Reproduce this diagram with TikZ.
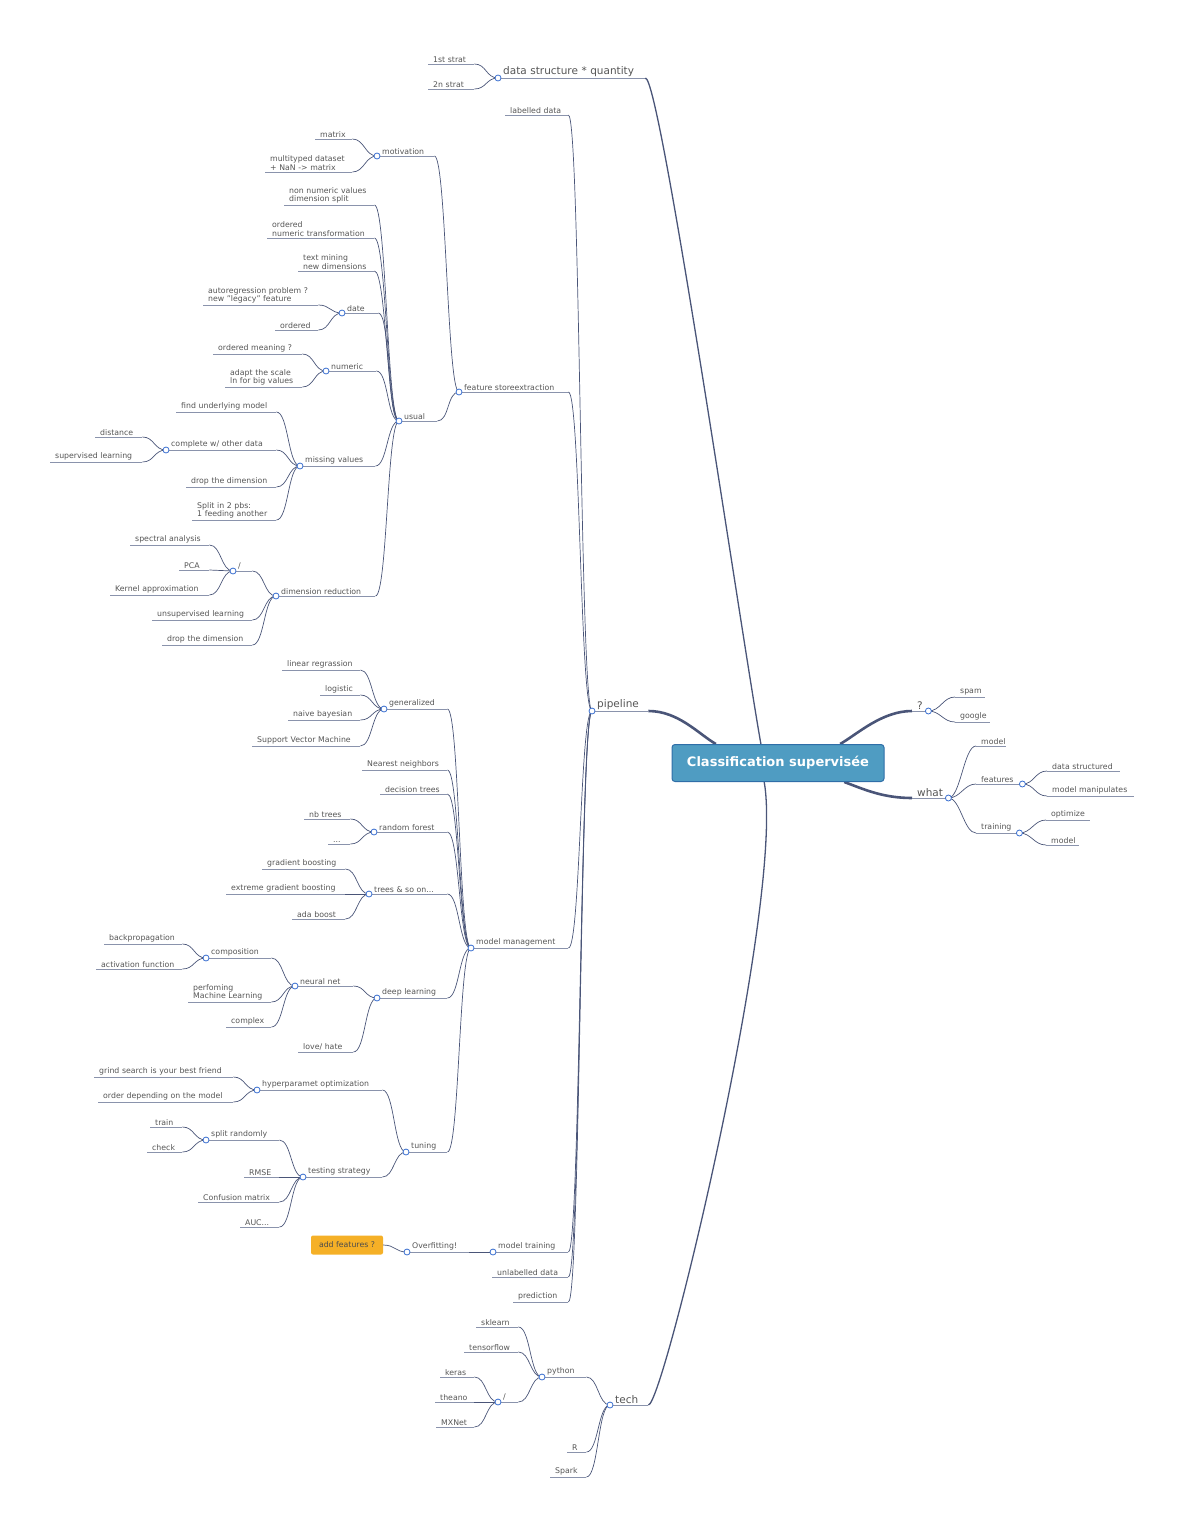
\documentclass[tikz,border=0pt]{standalone}
\usepackage{fontspec}
\setmainfont{DejaVu Sans}
\usetikzlibrary{backgrounds}
\definecolor{lc}{HTML}{4A5578}
\definecolor{ul}{HTML}{8A93AC}
\definecolor{tc}{HTML}{555555}
\definecolor{dc}{HTML}{3A6FD0}
\definecolor{cf}{HTML}{4F9CC2}
\definecolor{cb}{HTML}{2F6EA8}
\definecolor{of}{HTML}{F5B027}
\tikzset{
  lab/.style={font=\fontsize{7.8}{8.2}\selectfont, text=tc, inner xsep=5pt, inner ysep=1.5pt,
    align=left, append after command={(\tikzlastnode.south west) edge[draw=ul, line width=0.8pt] (\tikzlastnode.south east)}},
  big/.style={font=\fontsize{10.5}{12}\selectfont},
  ln/.style={draw=lc, line width=0.7pt},
  br/.style={out=0, in=180, out distance=12pt, in distance=12pt},
  main/.style={draw=lc, line width=2.6pt},
  thin main/.style={draw=lc, line width=1.3pt},
  dot/.style={draw=dc, fill=white, line width=0.8pt}
}
% topic: [options]{name}{x left}{x right}{y of line}{text}
\newcommand\topic[6][]{%
  \pgfmathsetmacro\tw{#4-#3-10}%
  \node[lab, #1, text width=\tw pt, anchor=south west] (#2) at (#3,#5) {#6};}
\begin{document}
\begin{tikzpicture}[x=1pt, y=-1pt]
\useasboundingbox (0,0) rectangle (1189,1534);
% main topics
\topic[big]{dsq}{498}{645}{78}{data structure * quantity}
\topic[big]{pip}{592}{648}{711}{pipeline}
\topic[big]{tech}{610}{648}{1405}{tech}
\topic[big]{q}{912}{928}{711}{?}
\topic[big]{what}{912}{948}{798}{what}
% data structure
\topic{s1}{428}{474}{64}{1st strat}
\topic{s2}{428}{474}{89}{2n strat}
% pipeline
\topic{lab}{505}{568}{115}{labelled data}
\topic{fse}{459}{568}{392}{feature storeextraction}
\topic{mm}{471}{568}{948}{model management}
\topic{mtr}{493}{568}{1252}{model training}
\topic{unl2}{492}{568}{1277}{unlabelled data}
\topic{pred}{513}{568}{1302}{prediction}
% feature store / extraction
\topic{mot}{377}{434}{156}{motivation}
\topic{usu}{399}{437}{421}{usual}
\topic{mat}{315}{352}{139}{matrix}
\topic{mtd}{265}{352}{172}{multityped dataset\\+ NaN -> matrix}
\topic{nnv}{284}{374}{205}{non numeric values\\dimension split}
\topic{ont}{267}{374}{238}{ordered\\numeric transformation}
\topic{txm}{298}{374}{271}{text mining\\new dimensions}
\topic{date}{342}{378}{313}{date}
\topic{num}{326}{376}{371}{numeric}
\topic{mis}{300}{375}{466}{missing values}
\topic{dr}{276}{375}{596}{dimension reduction}
\topic{aut}{203}{318}{305}{autoregression problem ?\\new "legacy" feature}
\topic{ord}{275}{318}{330}{ordered}
\topic{omn}{213}{302}{354}{ordered meaning ?}
\topic{ads}{225}{302}{387}{adapt the scale\\ln for big values}
\topic{fum}{176}{276}{412}{find underlying model}
\topic{cwo}{166}{276}{450}{complete w/ other data}
\topic{drp}{186}{276}{487}{drop the dimension}
\topic{spl}{192}{276}{520}{Split in 2 pbs:\\1 feeding another}
\topic{dis}{95}{142}{437}{distance}
\topic{sup}{50}{142}{462}{supervised learning}
\topic{sl}{233}{252}{571}{/}
\topic{unl}{152}{252}{620}{unsupervised learning}
\topic{drp2}{162}{252}{645}{drop the dimension}
\topic{spa}{130}{209}{545}{spectral analysis}
\topic{pca}{179}{209}{570}{PCA}
\topic{ker}{110}{209}{595}{Kernel approximation}
% model management
\topic{gen}{384}{447}{709}{generalized}
\topic{nn}{362}{447}{770}{Nearest neighbors}
\topic{dt}{380}{447}{794}{decision trees}
\topic{rf}{374}{447}{832}{random forest}
\topic{tso}{369}{447}{894}{trees \& so on...}
\topic{dl}{377}{447}{998}{deep learning}
\topic{tun}{406}{447}{1152}{tuning}
\topic{lin}{282}{360}{670}{linear regrassion}
\topic{log}{320}{360}{695}{logistic}
\topic{nai}{288}{360}{720}{naive bayesian}
\topic{svm}{252}{360}{746}{Support Vector Machine}
\topic{nbt}{304}{350}{819}{nb trees}
\topic{dots}{328}{350}{844}{...}
\topic{gb}{262}{345}{869}{gradient boosting}
\topic{xgb}{226}{345}{894}{extreme gradient boosting}
\topic{ada}{292}{345}{919}{ada boost}
\topic{nnet}{295}{353}{986}{neural net}
\topic{lh}{298}{353}{1052}{love/ hate}
\topic{cmp}{206}{271}{958}{composition}
\topic{pml}{188}{271}{1002}{perfoming\\Machine Learning}
\topic{cpx}{226}{271}{1027}{complex}
\topic{bp}{104}{182}{944}{backpropagation}
\topic{af}{96}{182}{969}{activation function}
\topic{hyp}{257}{382}{1090}{hyperparamet optimization}
\topic{tst}{303}{382}{1177}{testing strategy}
\topic{grd}{94}{233}{1077}{grind search is your best friend}
\topic{odm}{98}{233}{1102}{order depending on the model}
\topic{spr}{206}{279}{1140}{split randomly}
\topic{rmse}{244}{279}{1177}{RMSE}
\topic{cfm}{198}{279}{1202}{Confusion matrix}
\topic{auc}{240}{279}{1227}{AUC...}
\topic{trn}{150}{182}{1127}{train}
\topic{chk}{147}{182}{1152}{check}
% model training
\topic{ovf}{407}{469}{1252}{Overfitting!}
\node[fill=of, rounded corners=2pt, text=black!70, font=\fontsize{7.8}{8.2}\selectfont,
  minimum width=72pt, minimum height=19pt] (add) at (347,1245) {add features ?};
% tech
\topic{py}{542}{586}{1377}{python}
\topic{R}{567}{586}{1452}{R}
\topic{spk}{550}{586}{1477}{Spark}
\topic{skl}{476}{518}{1327}{sklearn}
\topic{tf}{464}{518}{1352}{tensorflow}
\topic{sl2}{498}{518}{1402}{/}
\topic{ker2}{440}{474}{1377}{keras}
\topic{the}{435}{474}{1402}{theano}
\topic{mx}{436}{474}{1427}{MXNet}
% right side
\topic{spam}{955}{985}{697}{spam}
\topic{goo}{955}{990}{722}{google}
\topic{mdl}{976}{1006}{746}{model}
\topic{feat}{976}{1022}{784}{features}
\topic{trg}{976}{1019}{833}{training}
\topic{dstr}{1047}{1120}{771}{data structured}
\topic{mman}{1047}{1134}{796}{model manipulates}
\topic{opt}{1046}{1090}{820}{optimize}
\topic{mdl2}{1046}{1079}{845}{model}
% centre
\node[fill=cf, draw=cb, line width=1pt, rounded corners=3pt, text=white,
  font=\fontsize{13}{15}\bfseries\selectfont, minimum width=212pt, minimum height=37pt] (C) at (778,763) {Classification supervisée};
% main branches
\begin{scope}[on background layer]
\draw[thin main] (dsq.south east) to[out=0,in=100,out distance=15pt,in distance=120pt] (C.132);
\draw[main] (pip.south east) to[out=0,in=150,out distance=30pt,in distance=20pt] (C.163);
\draw[thin main] (tech.south east) to[out=0,in=-80,out distance=15pt,in distance=120pt] (C.234);
\draw[main] (C.17) to[out=30,in=180,out distance=20pt,in distance=30pt] (q.south west);
\draw[main] (C.-16) to[out=-20,in=180,out distance=20pt,in distance=30pt] (what.south west);
\end{scope}
% connectors, left side
\foreach \c/\p in {s1/dsq, s2/dsq, lab/pip, fse/pip, mm/pip, mtr/pip, unl2/pip, pred/pip,
  mot/fse, usu/fse, mat/mot, mtd/mot, nnv/usu, ont/usu, txm/usu, date/usu, num/usu, mis/usu, dr/usu,
  aut/date, ord/date, omn/num, ads/num, fum/mis, cwo/mis, drp/mis, spl/mis, dis/cwo, sup/cwo,
  sl/dr, unl/dr, drp2/dr, spa/sl, pca/sl, ker/sl,
  gen/mm, nn/mm, dt/mm, rf/mm, tso/mm, dl/mm, tun/mm, lin/gen, log/gen, nai/gen, svm/gen,
  nbt/rf, dots/rf, gb/tso, xgb/tso, ada/tso, nnet/dl, lh/dl, cmp/nnet, pml/nnet, cpx/nnet,
  bp/cmp, af/cmp, hyp/tun, tst/tun, grd/hyp, odm/hyp, spr/tst, rmse/tst, cfm/tst, auc/tst,
  trn/spr, chk/spr, ovf/mtr, py/tech, R/tech, spk/tech, skl/py, tf/py, sl2/py,
  ker2/sl2, the/sl2, mx/sl2}
  \draw[ln] (\c.south east) to[br] (\p.south west);
\draw[ln] (add.east) to[br] (ovf.south west);
% connectors, right side
\foreach \p/\c in {q/spam, q/goo, what/mdl, what/feat, what/trg, feat/dstr, feat/mman, trg/opt, trg/mdl2}
  \draw[ln] (\p.south east) to[br] (\c.south west);
% dots
\foreach \p in {dsq, pip, tech, fse, mm, mtr, mot, usu, date, num, mis, dr, cwo, sl,
  gen, rf, tso, dl, tun, nnet, cmp, hyp, tst, spr, ovf, py, sl2}
  \draw[dot] (\p.south west) circle (3);
\foreach \p in {q, what, feat, trg}
  \draw[dot] (\p.south east) circle (3);
\end{tikzpicture}
\end{document}
